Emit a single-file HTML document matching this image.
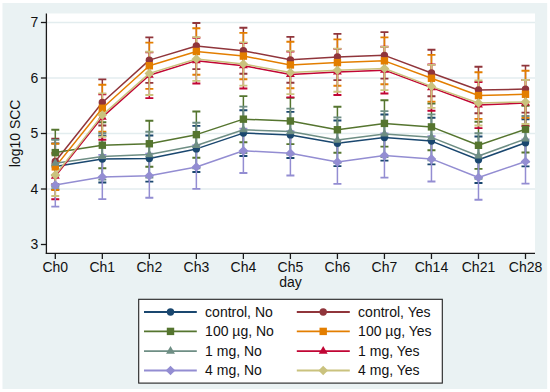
<!DOCTYPE html>
<html><head><meta charset="utf-8"><title>log10 SCC by day</title>
<style>html,body{margin:0;padding:0;background:#fff;}body{width:550px;height:392px;overflow:hidden;}svg{display:block;font-family:"Liberation Sans",sans-serif;}</style></head><body>
<svg width="550" height="392" viewBox="0 0 550 392">
<rect x="0" y="0" width="550" height="392" fill="#ffffff"/>
<rect x="2.5" y="3" width="544.7" height="386" fill="#eaf2f3"/>
<rect x="46.4" y="13.5" width="488.6" height="239.8" fill="#ffffff"/>
<line x1="46.4" y1="189" x2="535" y2="189" stroke="#e3edef" stroke-width="1.3"/>
<line x1="46.4" y1="133.5" x2="535" y2="133.5" stroke="#e3edef" stroke-width="1.3"/>
<line x1="46.4" y1="78" x2="535" y2="78" stroke="#e3edef" stroke-width="1.3"/>
<line x1="46.4" y1="22.5" x2="535" y2="22.5" stroke="#e3edef" stroke-width="1.3"/>
<line x1="46.4" y1="13.5" x2="46.4" y2="253.9" stroke="#1a1a1a" stroke-width="1.3"/>
<line x1="45.8" y1="253.3" x2="535" y2="253.3" stroke="#1a1a1a" stroke-width="1.3"/>
<line x1="40.9" y1="244.5" x2="46.4" y2="244.5" stroke="#1a1a1a" stroke-width="1.3"/>
<text x="38.3" y="249.1" font-size="14" text-anchor="end" fill="#111">3</text>
<line x1="40.9" y1="189" x2="46.4" y2="189" stroke="#1a1a1a" stroke-width="1.3"/>
<text x="38.3" y="193.6" font-size="14" text-anchor="end" fill="#111">4</text>
<line x1="40.9" y1="133.5" x2="46.4" y2="133.5" stroke="#1a1a1a" stroke-width="1.3"/>
<text x="38.3" y="138.1" font-size="14" text-anchor="end" fill="#111">5</text>
<line x1="40.9" y1="78" x2="46.4" y2="78" stroke="#1a1a1a" stroke-width="1.3"/>
<text x="38.3" y="82.6" font-size="14" text-anchor="end" fill="#111">6</text>
<line x1="40.9" y1="22.5" x2="46.4" y2="22.5" stroke="#1a1a1a" stroke-width="1.3"/>
<text x="38.3" y="27.1" font-size="14" text-anchor="end" fill="#111">7</text>
<line x1="55.3" y1="253.3" x2="55.3" y2="259.0" stroke="#1a1a1a" stroke-width="1.3"/>
<text x="55.3" y="272.0" font-size="14" text-anchor="middle" fill="#111">Ch0</text>
<line x1="102.32" y1="253.3" x2="102.32" y2="259.0" stroke="#1a1a1a" stroke-width="1.3"/>
<text x="102.32" y="272.0" font-size="14" text-anchor="middle" fill="#111">Ch1</text>
<line x1="149.34" y1="253.3" x2="149.34" y2="259.0" stroke="#1a1a1a" stroke-width="1.3"/>
<text x="149.34" y="272.0" font-size="14" text-anchor="middle" fill="#111">Ch2</text>
<line x1="196.36" y1="253.3" x2="196.36" y2="259.0" stroke="#1a1a1a" stroke-width="1.3"/>
<text x="196.36" y="272.0" font-size="14" text-anchor="middle" fill="#111">Ch3</text>
<line x1="243.38" y1="253.3" x2="243.38" y2="259.0" stroke="#1a1a1a" stroke-width="1.3"/>
<text x="243.38" y="272.0" font-size="14" text-anchor="middle" fill="#111">Ch4</text>
<line x1="290.4" y1="253.3" x2="290.4" y2="259.0" stroke="#1a1a1a" stroke-width="1.3"/>
<text x="290.4" y="272.0" font-size="14" text-anchor="middle" fill="#111">Ch5</text>
<line x1="337.42" y1="253.3" x2="337.42" y2="259.0" stroke="#1a1a1a" stroke-width="1.3"/>
<text x="337.42" y="272.0" font-size="14" text-anchor="middle" fill="#111">Ch6</text>
<line x1="384.44" y1="253.3" x2="384.44" y2="259.0" stroke="#1a1a1a" stroke-width="1.3"/>
<text x="384.44" y="272.0" font-size="14" text-anchor="middle" fill="#111">Ch7</text>
<line x1="431.46" y1="253.3" x2="431.46" y2="259.0" stroke="#1a1a1a" stroke-width="1.3"/>
<text x="431.46" y="272.0" font-size="14" text-anchor="middle" fill="#111">Ch14</text>
<line x1="478.48" y1="253.3" x2="478.48" y2="259.0" stroke="#1a1a1a" stroke-width="1.3"/>
<text x="478.48" y="272.0" font-size="14" text-anchor="middle" fill="#111">Ch21</text>
<line x1="525.5" y1="253.3" x2="525.5" y2="259.0" stroke="#1a1a1a" stroke-width="1.3"/>
<text x="525.5" y="272.0" font-size="14" text-anchor="middle" fill="#111">Ch28</text>
<text x="290.5" y="287.2" font-size="14" text-anchor="middle" fill="#111">day</text>
<text transform="translate(20.3,133.4) rotate(-90)" font-size="14" text-anchor="middle" fill="#111">log10 SCC</text>
<path d="M55.3 143.4V189.4M102.32 135.7V182.5M149.34 135.55V181.65M196.36 125.85V171.95M243.38 110.2V156M290.4 111.85V157.95M337.42 120.5V166.1M384.44 114.55V160.65M431.46 117.8V164.4M478.48 136.55V183.05M525.5 119.2V166.4" stroke="#1a476f" stroke-width="1.5" fill="none"/>
<path d="M51.3 143.4H59.3M51.3 189.4H59.3M98.32 135.7H106.32M98.32 182.5H106.32M145.34 135.55H153.34M145.34 181.65H153.34M192.36 125.85H200.36M192.36 171.95H200.36M239.38 110.2H247.38M239.38 156H247.38M286.4 111.85H294.4M286.4 157.95H294.4M333.42 120.5H341.42M333.42 166.1H341.42M380.44 114.55H388.44M380.44 160.65H388.44M427.46 117.8H435.46M427.46 164.4H435.46M474.48 136.55H482.48M474.48 183.05H482.48M521.5 119.2H529.5M521.5 166.4H529.5" stroke="#1a476f" stroke-width="1.9" fill="none"/>
<path d="M55.3 138.8V184.2M102.32 79.4V125.5M149.34 37.4V82.9M196.36 23V69.1M243.38 27.8V73.8M290.4 36.9V82.8M337.42 33.9V80.1M384.44 32.1V78.6M431.46 49.8V96.2M478.48 66.7V113.2M525.5 65.6V112.6" stroke="#90353b" stroke-width="1.5" fill="none"/>
<path d="M51.3 138.8H59.3M51.3 184.2H59.3M98.32 79.4H106.32M98.32 125.5H106.32M145.34 37.4H153.34M145.34 82.9H153.34M192.36 23H200.36M192.36 69.1H200.36M239.38 27.8H247.38M239.38 73.8H247.38M286.4 36.9H294.4M286.4 82.8H294.4M333.42 33.9H341.42M333.42 80.1H341.42M380.44 32.1H388.44M380.44 78.6H388.44M427.46 49.8H435.46M427.46 96.2H435.46M474.48 66.7H482.48M474.48 113.2H482.48M521.5 65.6H529.5M521.5 112.6H529.5" stroke="#90353b" stroke-width="1.9" fill="none"/>
<path d="M55.3 129.8V175.4M102.32 122.2V168.2M149.34 120.7V166.8M196.36 111.5V157.8M243.38 96.1V142.2M290.4 97.9V144.1M337.42 106.7V152.8M384.44 100.2V146.6M431.46 103.5V150.3M478.48 121.7V168.9M525.5 105.9V152.5" stroke="#55752f" stroke-width="1.5" fill="none"/>
<path d="M51.3 129.8H59.3M51.3 175.4H59.3M98.32 122.2H106.32M98.32 168.2H106.32M145.34 120.7H153.34M145.34 166.8H153.34M192.36 111.5H200.36M192.36 157.8H200.36M239.38 96.1H247.38M239.38 142.2H247.38M286.4 97.9H294.4M286.4 144.1H294.4M333.42 106.7H341.42M333.42 152.8H341.42M380.44 100.2H388.44M380.44 146.6H388.44M427.46 103.5H435.46M427.46 150.3H435.46M474.48 121.7H482.48M474.48 168.9H482.48M521.5 105.9H529.5M521.5 152.5H529.5" stroke="#55752f" stroke-width="1.9" fill="none"/>
<path d="M55.3 143.75V190.05M102.32 84.7V131.8M149.34 42.6V88.9M196.36 28.2V74.7M243.38 32.9V79.3M290.4 41.7V88.2M337.42 39.4V85.8M384.44 37.4V84.3M431.46 54.9V101.6M478.48 72.2V118.9M525.5 70.8V117.7" stroke="#e37e00" stroke-width="1.5" fill="none"/>
<path d="M51.3 143.75H59.3M51.3 190.05H59.3M98.32 84.7H106.32M98.32 131.8H106.32M145.34 42.6H153.34M145.34 88.9H153.34M192.36 28.2H200.36M192.36 74.7H200.36M239.38 32.9H247.38M239.38 79.3H247.38M286.4 41.7H294.4M286.4 88.2H294.4M333.42 39.4H341.42M333.42 85.8H341.42M380.44 37.4H388.44M380.44 84.3H388.44M427.46 54.9H435.46M427.46 101.6H435.46M474.48 72.2H482.48M474.48 118.9H482.48M521.5 70.8H529.5M521.5 117.7H529.5" stroke="#e37e00" stroke-width="1.9" fill="none"/>
<path d="M55.3 139.9V186.7M102.32 133.2V179.6M149.34 131.7V177.5M196.36 122.7V168.3M243.38 106.6V153M290.4 108.6V154.6M337.42 117.4V162.8M384.44 111.1V157M431.46 114.4V160.3M478.48 133.2V178.8M525.5 116V162" stroke="#6e8e84" stroke-width="1.5" fill="none"/>
<path d="M51.3 139.9H59.3M51.3 186.7H59.3M98.32 133.2H106.32M98.32 179.6H106.32M145.34 131.7H153.34M145.34 177.5H153.34M192.36 122.7H200.36M192.36 168.3H200.36M239.38 106.6H247.38M239.38 153H247.38M286.4 108.6H294.4M286.4 154.6H294.4M333.42 117.4H341.42M333.42 162.8H341.42M380.44 111.1H388.44M380.44 157H388.44M427.46 114.4H435.46M427.46 160.3H435.46M474.48 133.2H482.48M474.48 178.8H482.48M521.5 116H529.5M521.5 162H529.5" stroke="#6e8e84" stroke-width="1.9" fill="none"/>
<path d="M55.3 153.2V199.2M102.32 94.4V139.8M149.34 52.4V98.1M196.36 37.8V83.5M243.38 43V88.5M290.4 51.6V97.4M337.42 48.9V95M384.44 46.8V93.5M431.46 64.5V110.8M478.48 82V128.1M525.5 80V126" stroke="#c10534" stroke-width="1.5" fill="none"/>
<path d="M51.3 153.2H59.3M51.3 199.2H59.3M98.32 94.4H106.32M98.32 139.8H106.32M145.34 52.4H153.34M145.34 98.1H153.34M192.36 37.8H200.36M192.36 83.5H200.36M239.38 43H247.38M239.38 88.5H247.38M286.4 51.6H294.4M286.4 97.4H294.4M333.42 48.9H341.42M333.42 95H341.42M380.44 46.8H388.44M380.44 93.5H388.44M427.46 64.5H435.46M427.46 110.8H435.46M474.48 82H482.48M474.48 128.1H482.48M521.5 80H529.5M521.5 126H529.5" stroke="#c10534" stroke-width="1.9" fill="none"/>
<path d="M55.3 163.4V206.6M102.32 154.9V199.1M149.34 153.6V197.8M196.36 145.1V188.9M243.38 128.6V173M290.4 131.1V175.5M337.42 140.1V183.9M384.44 133.4V177.6M431.46 136.3V181.5M478.48 155.3V199.7M525.5 139.4V183.6" stroke="#938dd2" stroke-width="1.5" fill="none"/>
<path d="M51.3 163.4H59.3M51.3 206.6H59.3M98.32 154.9H106.32M98.32 199.1H106.32M145.34 153.6H153.34M145.34 197.8H153.34M192.36 145.1H200.36M192.36 188.9H200.36M239.38 128.6H247.38M239.38 173H247.38M286.4 131.1H294.4M286.4 175.5H294.4M333.42 140.1H341.42M333.42 183.9H341.42M380.44 133.4H388.44M380.44 177.6H388.44M427.46 136.3H435.46M427.46 181.5H435.46M474.48 155.3H482.48M474.48 199.7H482.48M521.5 139.4H529.5M521.5 183.6H529.5" stroke="#938dd2" stroke-width="1.9" fill="none"/>
<path d="M55.3 154V196M102.32 93.4V136.8M149.34 51.8V95M196.36 37.1V80.9M243.38 42.4V85.6M290.4 50.9V94.1M337.42 48.6V91.8M384.44 46.9V90.1M431.46 64.9V107.9M478.48 80.5V125.5M525.5 80V124" stroke="#cac27e" stroke-width="1.5" fill="none"/>
<path d="M51.3 154H59.3M51.3 196H59.3M98.32 93.4H106.32M98.32 136.8H106.32M145.34 51.8H153.34M145.34 95H153.34M192.36 37.1H200.36M192.36 80.9H200.36M239.38 42.4H247.38M239.38 85.6H247.38M286.4 50.9H294.4M286.4 94.1H294.4M333.42 48.6H341.42M333.42 91.8H341.42M380.44 46.9H388.44M380.44 90.1H388.44M427.46 64.9H435.46M427.46 107.9H435.46M474.48 80.5H482.48M474.48 125.5H482.48M521.5 80H529.5M521.5 124H529.5" stroke="#cac27e" stroke-width="1.9" fill="none"/>
<polyline points="55.3,166.4 102.32,159.1 149.34,158.6 196.36,148.9 243.38,133.1 290.4,134.9 337.42,143.3 384.44,137.6 431.46,141.1 478.48,159.8 525.5,142.8" stroke="#1a476f" stroke-width="1.5" fill="none" stroke-linejoin="round"/>
<circle cx="55.3" cy="166.4" r="3.7" fill="#1a476f"/>
<circle cx="102.32" cy="159.1" r="3.7" fill="#1a476f"/>
<circle cx="149.34" cy="158.6" r="3.7" fill="#1a476f"/>
<circle cx="196.36" cy="148.9" r="3.7" fill="#1a476f"/>
<circle cx="243.38" cy="133.1" r="3.7" fill="#1a476f"/>
<circle cx="290.4" cy="134.9" r="3.7" fill="#1a476f"/>
<circle cx="337.42" cy="143.3" r="3.7" fill="#1a476f"/>
<circle cx="384.44" cy="137.6" r="3.7" fill="#1a476f"/>
<circle cx="431.46" cy="141.1" r="3.7" fill="#1a476f"/>
<circle cx="478.48" cy="159.8" r="3.7" fill="#1a476f"/>
<circle cx="525.5" cy="142.8" r="3.7" fill="#1a476f"/>
<polyline points="55.3,161.5 102.32,102.45 149.34,60.15 196.36,46.05 243.38,50.8 290.4,59.85 337.42,57 384.44,55.35 431.46,73 478.48,89.95 525.5,89.1" stroke="#90353b" stroke-width="1.5" fill="none" stroke-linejoin="round"/>
<circle cx="55.3" cy="161.5" r="3.7" fill="#90353b"/>
<circle cx="102.32" cy="102.45" r="3.7" fill="#90353b"/>
<circle cx="149.34" cy="60.15" r="3.7" fill="#90353b"/>
<circle cx="196.36" cy="46.05" r="3.7" fill="#90353b"/>
<circle cx="243.38" cy="50.8" r="3.7" fill="#90353b"/>
<circle cx="290.4" cy="59.85" r="3.7" fill="#90353b"/>
<circle cx="337.42" cy="57" r="3.7" fill="#90353b"/>
<circle cx="384.44" cy="55.35" r="3.7" fill="#90353b"/>
<circle cx="431.46" cy="73" r="3.7" fill="#90353b"/>
<circle cx="478.48" cy="89.95" r="3.7" fill="#90353b"/>
<circle cx="525.5" cy="89.1" r="3.7" fill="#90353b"/>
<polyline points="55.3,152.6 102.32,145.2 149.34,143.75 196.36,134.65 243.38,119.15 290.4,121 337.42,129.75 384.44,123.4 431.46,126.9 478.48,145.3 525.5,129.2" stroke="#55752f" stroke-width="1.5" fill="none" stroke-linejoin="round"/>
<rect x="51.6" y="148.9" width="7.4" height="7.4" fill="#55752f"/>
<rect x="98.62" y="141.5" width="7.4" height="7.4" fill="#55752f"/>
<rect x="145.64" y="140.05" width="7.4" height="7.4" fill="#55752f"/>
<rect x="192.66" y="130.95" width="7.4" height="7.4" fill="#55752f"/>
<rect x="239.68" y="115.45" width="7.4" height="7.4" fill="#55752f"/>
<rect x="286.7" y="117.3" width="7.4" height="7.4" fill="#55752f"/>
<rect x="333.72" y="126.05" width="7.4" height="7.4" fill="#55752f"/>
<rect x="380.74" y="119.7" width="7.4" height="7.4" fill="#55752f"/>
<rect x="427.76" y="123.2" width="7.4" height="7.4" fill="#55752f"/>
<rect x="474.78" y="141.6" width="7.4" height="7.4" fill="#55752f"/>
<rect x="521.8" y="125.5" width="7.4" height="7.4" fill="#55752f"/>
<polyline points="55.3,166.9 102.32,108.25 149.34,65.75 196.36,51.45 243.38,56.1 290.4,64.95 337.42,62.6 384.44,60.85 431.46,78.25 478.48,95.55 525.5,94.25" stroke="#e37e00" stroke-width="1.5" fill="none" stroke-linejoin="round"/>
<rect x="51.6" y="163.2" width="7.4" height="7.4" fill="#e37e00"/>
<rect x="98.62" y="104.55" width="7.4" height="7.4" fill="#e37e00"/>
<rect x="145.64" y="62.05" width="7.4" height="7.4" fill="#e37e00"/>
<rect x="192.66" y="47.75" width="7.4" height="7.4" fill="#e37e00"/>
<rect x="239.68" y="52.4" width="7.4" height="7.4" fill="#e37e00"/>
<rect x="286.7" y="61.25" width="7.4" height="7.4" fill="#e37e00"/>
<rect x="333.72" y="58.9" width="7.4" height="7.4" fill="#e37e00"/>
<rect x="380.74" y="57.15" width="7.4" height="7.4" fill="#e37e00"/>
<rect x="427.76" y="74.55" width="7.4" height="7.4" fill="#e37e00"/>
<rect x="474.78" y="91.85" width="7.4" height="7.4" fill="#e37e00"/>
<rect x="521.8" y="90.55" width="7.4" height="7.4" fill="#e37e00"/>
<polyline points="55.3,163.3 102.32,156.4 149.34,154.6 196.36,145.5 243.38,129.8 290.4,131.6 337.42,140.1 384.44,134.05 431.46,137.35 478.48,156 525.5,139" stroke="#6e8e84" stroke-width="1.5" fill="none" stroke-linejoin="round"/>
<polygon points="55.3,158.17 50.85,165.87 59.75,165.87" fill="#6e8e84"/>
<polygon points="102.32,151.27 97.87,158.97 106.77,158.97" fill="#6e8e84"/>
<polygon points="149.34,149.47 144.89,157.17 153.79,157.17" fill="#6e8e84"/>
<polygon points="196.36,140.37 191.91,148.07 200.81,148.07" fill="#6e8e84"/>
<polygon points="243.38,124.67 238.93,132.37 247.83,132.37" fill="#6e8e84"/>
<polygon points="290.4,126.47 285.95,134.17 294.85,134.17" fill="#6e8e84"/>
<polygon points="337.42,134.97 332.97,142.67 341.87,142.67" fill="#6e8e84"/>
<polygon points="384.44,128.92 379.99,136.62 388.89,136.62" fill="#6e8e84"/>
<polygon points="431.46,132.22 427.01,139.92 435.91,139.92" fill="#6e8e84"/>
<polygon points="478.48,150.87 474.03,158.57 482.93,158.57" fill="#6e8e84"/>
<polygon points="525.5,133.87 521.05,141.57 529.95,141.57" fill="#6e8e84"/>
<polyline points="55.3,176.2 102.32,117.1 149.34,75.25 196.36,60.65 243.38,65.75 290.4,74.5 337.42,71.95 384.44,70.15 431.46,87.65 478.48,105.05 525.5,103" stroke="#c10534" stroke-width="1.5" fill="none" stroke-linejoin="round"/>
<polygon points="55.3,171.07 50.85,178.77 59.75,178.77" fill="#c10534"/>
<polygon points="102.32,111.97 97.87,119.67 106.77,119.67" fill="#c10534"/>
<polygon points="149.34,70.12 144.89,77.82 153.79,77.82" fill="#c10534"/>
<polygon points="196.36,55.52 191.91,63.22 200.81,63.22" fill="#c10534"/>
<polygon points="243.38,60.62 238.93,68.32 247.83,68.32" fill="#c10534"/>
<polygon points="290.4,69.37 285.95,77.07 294.85,77.07" fill="#c10534"/>
<polygon points="337.42,66.82 332.97,74.52 341.87,74.52" fill="#c10534"/>
<polygon points="384.44,65.02 379.99,72.72 388.89,72.72" fill="#c10534"/>
<polygon points="431.46,82.52 427.01,90.22 435.91,90.22" fill="#c10534"/>
<polygon points="478.48,99.92 474.03,107.62 482.93,107.62" fill="#c10534"/>
<polygon points="525.5,97.87 521.05,105.57 529.95,105.57" fill="#c10534"/>
<polyline points="55.3,185 102.32,177 149.34,175.7 196.36,167 243.38,150.8 290.4,153.3 337.42,162 384.44,155.5 431.46,158.9 478.48,177.5 525.5,161.5" stroke="#938dd2" stroke-width="1.5" fill="none" stroke-linejoin="round"/>
<polygon points="55.3,180.2 60.1,185 55.3,189.8 50.5,185" fill="#938dd2"/>
<polygon points="102.32,172.2 107.12,177 102.32,181.8 97.52,177" fill="#938dd2"/>
<polygon points="149.34,170.9 154.14,175.7 149.34,180.5 144.54,175.7" fill="#938dd2"/>
<polygon points="196.36,162.2 201.16,167 196.36,171.8 191.56,167" fill="#938dd2"/>
<polygon points="243.38,146 248.18,150.8 243.38,155.6 238.58,150.8" fill="#938dd2"/>
<polygon points="290.4,148.5 295.2,153.3 290.4,158.1 285.6,153.3" fill="#938dd2"/>
<polygon points="337.42,157.2 342.22,162 337.42,166.8 332.62,162" fill="#938dd2"/>
<polygon points="384.44,150.7 389.24,155.5 384.44,160.3 379.64,155.5" fill="#938dd2"/>
<polygon points="431.46,154.1 436.26,158.9 431.46,163.7 426.66,158.9" fill="#938dd2"/>
<polygon points="478.48,172.7 483.28,177.5 478.48,182.3 473.68,177.5" fill="#938dd2"/>
<polygon points="525.5,156.7 530.3,161.5 525.5,166.3 520.7,161.5" fill="#938dd2"/>
<polyline points="55.3,175 102.32,115.1 149.34,73.4 196.36,59 243.38,64 290.4,72.5 337.42,70.2 384.44,68.5 431.46,86.4 478.48,103 525.5,102" stroke="#cac27e" stroke-width="1.5" fill="none" stroke-linejoin="round"/>
<polygon points="55.3,170.2 60.1,175 55.3,179.8 50.5,175" fill="#cac27e"/>
<polygon points="102.32,110.3 107.12,115.1 102.32,119.9 97.52,115.1" fill="#cac27e"/>
<polygon points="149.34,68.6 154.14,73.4 149.34,78.2 144.54,73.4" fill="#cac27e"/>
<polygon points="196.36,54.2 201.16,59 196.36,63.8 191.56,59" fill="#cac27e"/>
<polygon points="243.38,59.2 248.18,64 243.38,68.8 238.58,64" fill="#cac27e"/>
<polygon points="290.4,67.7 295.2,72.5 290.4,77.3 285.6,72.5" fill="#cac27e"/>
<polygon points="337.42,65.4 342.22,70.2 337.42,75 332.62,70.2" fill="#cac27e"/>
<polygon points="384.44,63.7 389.24,68.5 384.44,73.3 379.64,68.5" fill="#cac27e"/>
<polygon points="431.46,81.6 436.26,86.4 431.46,91.2 426.66,86.4" fill="#cac27e"/>
<polygon points="478.48,98.2 483.28,103 478.48,107.8 473.68,103" fill="#cac27e"/>
<polygon points="525.5,97.2 530.3,102 525.5,106.8 520.7,102" fill="#cac27e"/>
<rect x="138.7" y="299.3" width="303.6" height="83.8" fill="#ffffff" stroke="#222" stroke-width="1.1"/>
<line x1="144" y1="312" x2="196.8" y2="312" stroke="#1a476f" stroke-width="1.8"/>
<circle cx="170.5" cy="312" r="3.7" fill="#1a476f"/>
<text x="205.1" y="316.6" font-size="14" fill="#111">control, No</text>
<line x1="296.8" y1="312" x2="349.8" y2="312" stroke="#90353b" stroke-width="1.8"/>
<circle cx="323.2" cy="312" r="3.7" fill="#90353b"/>
<text x="358.1" y="316.6" font-size="14" fill="#111">control, Yes</text>
<line x1="144" y1="331.4" x2="196.8" y2="331.4" stroke="#55752f" stroke-width="1.8"/>
<rect x="166.8" y="327.7" width="7.4" height="7.4" fill="#55752f"/>
<text x="205.1" y="336" font-size="14" fill="#111">100 µg, No</text>
<line x1="296.8" y1="331.4" x2="349.8" y2="331.4" stroke="#e37e00" stroke-width="1.8"/>
<rect x="319.5" y="327.7" width="7.4" height="7.4" fill="#e37e00"/>
<text x="358.1" y="336" font-size="14" fill="#111">100 µg, Yes</text>
<line x1="144" y1="351.1" x2="196.8" y2="351.1" stroke="#6e8e84" stroke-width="1.8"/>
<polygon points="170.5,345.97 166.05,353.67 174.95,353.67" fill="#6e8e84"/>
<text x="205.1" y="355.7" font-size="14" fill="#111">1 mg, No</text>
<line x1="296.8" y1="351.1" x2="349.8" y2="351.1" stroke="#c10534" stroke-width="1.8"/>
<polygon points="323.2,345.97 318.75,353.67 327.65,353.67" fill="#c10534"/>
<text x="358.1" y="355.7" font-size="14" fill="#111">1 mg, Yes</text>
<line x1="144" y1="370.5" x2="196.8" y2="370.5" stroke="#938dd2" stroke-width="1.8"/>
<polygon points="170.5,365.7 175.3,370.5 170.5,375.3 165.7,370.5" fill="#938dd2"/>
<text x="205.1" y="375.1" font-size="14" fill="#111">4 mg, No</text>
<line x1="296.8" y1="370.5" x2="349.8" y2="370.5" stroke="#cac27e" stroke-width="1.8"/>
<polygon points="323.2,365.7 328,370.5 323.2,375.3 318.4,370.5" fill="#cac27e"/>
<text x="358.1" y="375.1" font-size="14" fill="#111">4 mg, Yes</text>
</svg>
</body></html>
